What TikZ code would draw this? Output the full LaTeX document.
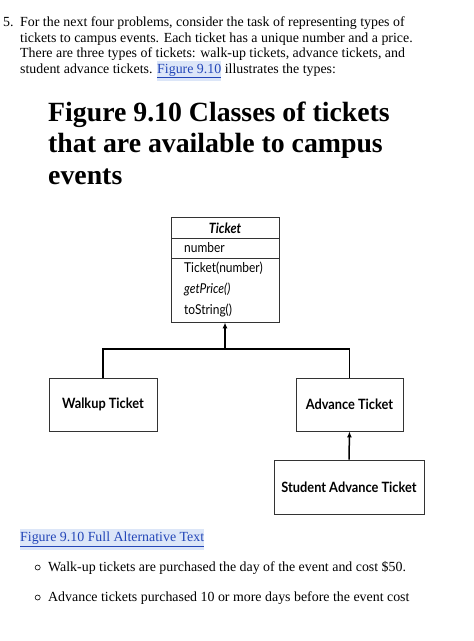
\documentclass[tikz,border=0pt]{standalone}
\usepackage{fontspec}
\setmainfont{Liberation Serif}
\newfontfamily\gill{Lato}
\usetikzlibrary{arrows.meta}
\definecolor{linkblue}{HTML}{2346B8}
\definecolor{hilite}{HTML}{DCE6F8}
\definecolor{boxline}{HTML}{333333}
\newcommand{\narrow}[1]{\scalebox{0.88}[1]{#1}}
\tikzset{
  para/.style={anchor=base west, inner sep=0pt, font=\fontsize{13.9}{16}\selectfont},
  ttl/.style={anchor=base west, inner sep=0pt, font=\fontsize{27.8}{32}\selectfont\bfseries},
  cls/.style={draw=boxline, line width=0.9pt, font=\gill\fontsize{14.2}{16}\selectfont\bfseries, inner sep=0pt},
  mem/.style={anchor=west, inner sep=0pt, font=\gill\fontsize{13.6}{15}\selectfont},
  conn/.style={line width=1.5pt, black},
  inh/.style={conn, -{Latex[length=6pt,width=5pt]}},
}
\begin{document}
\begin{tikzpicture}[x=1pt,y=-1pt]
\useasboundingbox (0,0) rectangle (474,641);
% intro paragraph
\node[para] (n5) at (3,26) {5.};
\node[para] (p1) at (20,26) {For the next four problems, consider the task of representing types of};
\node[para] (p2) at (20,42) {tickets to campus events. Each ticket has a unique number and a price.};
\node[para] (p3) at (20,57.5) {There are three types of tickets: walk-up tickets, advance tickets, and};
\node[para] (p4) at (20,73) {student advance tickets. \colorbox{hilite}{\kern-3pt\textcolor{linkblue}{\underline{Figure 9.10}}\kern-3pt} illustrates the types:};
% title
\node[ttl] (t1) at (48,121) {Figure 9.10 Classes of tickets};
\node[ttl] (t2) at (48,152.5) {that are available to campus};
\node[ttl] (t3) at (48,184) {events};
% Ticket class
\node[draw=boxline, line width=0.9pt, minimum width=108pt, minimum height=105pt, inner sep=0pt] (ticket) at (225,269.5) {};
\draw[boxline, line width=0.9pt] (171,238.5) -- (279,238.5);
\draw[boxline, line width=0.9pt] (171,258) -- (279,258);
\node[inner sep=0pt, font=\gill\fontsize{14.2}{16}\selectfont\bfseries\itshape] (tname) at (225,228) {\narrow{Ticket}};
\node[mem] (m1) at (184,248) {\narrow{number}};
\node[mem] (m2) at (184,268.5) {\narrow{Ticket(number)}};
\node[mem] (m3) at (184,289) {\narrow{\itshape getPrice()}};
\node[mem] (m4) at (184,310) {\narrow{toString()}};
% subclasses
\node[cls, minimum width=108pt, minimum height=53pt] (walk) at (103,404.5) {\scalebox{0.9}[1]{Walkup Ticket}};
\node[cls, minimum width=107pt, minimum height=53pt] (adv) at (349.5,404.5) {\scalebox{0.9}[1]{Advance Ticket}};
\node[cls, minimum width=150pt, minimum height=54pt] (stu) at (349,487) {\scalebox{0.9}[1]{Student Advance Ticket}};
\coordinate (j) at (225,349);
\draw[conn] (walk.north) |- (j) -| (adv.north);
\draw[inh] (j) -- (ticket.south);
\draw[inh] (stu.north) -- (adv.south);
% bottom text
\node[para] (alt) at (20,541.5) {\colorbox{hilite}{\kern-3pt\textcolor{linkblue}{\underline{Figure 9.10 Full Alternative Text}}\kern-3pt}};
\node[draw, circle, inner sep=0pt, minimum size=5pt, line width=0.6pt] (b1) at (37.7,567.5) {};
\node[para] (l1) at (48,571.5) {Walk-up tickets are purchased the day of the event and cost \$50.};
\node[draw, circle, inner sep=0pt, minimum size=5pt, line width=0.6pt] (b2) at (37.7,597.5) {};
\node[para] (l2) at (48,601.5) {Advance tickets purchased 10 or more days before the event cost};
\end{tikzpicture}
\end{document}
